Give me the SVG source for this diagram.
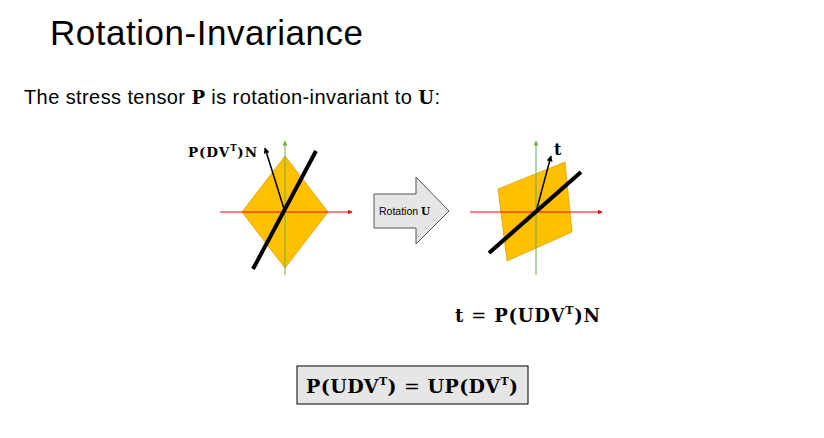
<svg xmlns="http://www.w3.org/2000/svg" width="824" height="438" viewBox="0 0 824 438">
<style>
.m{font-family:"DejaVu Serif","Liberation Serif",serif;font-weight:bold;fill:#000}
.ax{stroke-width:1}
</style>
<defs>
<marker id="ar" viewBox="0 0 10 10" refX="9" refY="5" markerWidth="5" markerHeight="5" orient="auto"><path d="M0,0L10,5L0,10z" fill="#f00"/></marker>
<marker id="ag" viewBox="0 0 10 10" refX="9" refY="5" markerWidth="5" markerHeight="5" orient="auto"><path d="M0,0L10,5L0,10z" fill="#70ad47"/></marker>
<marker id="ak" viewBox="0 0 10 10" refX="9" refY="5" markerWidth="4" markerHeight="4" orient="auto"><path d="M0,0L10,5L0,10z" fill="#000"/></marker>
</defs>
<rect width="824" height="438" fill="#fff"/>
<text x="50" y="45" font-family="Liberation Sans,Arial,sans-serif" font-size="35" textLength="313" fill="#000">Rotation-Invariance</text>
<text x="24" y="104" font-family="Liberation Sans,Arial,sans-serif" font-size="20" textLength="416" fill="#000">The stress tensor <tspan class="m" font-size="18">P</tspan> is rotation-invariant to <tspan class="m" font-size="18">U</tspan>:</text>
<g id="left">
<polygon points="285,156 328,212 285,268 242,212" fill="#ffc000" stroke="#d9a300" stroke-width="0.8"/>
<line x1="220" y1="212" x2="352" y2="212" stroke="#f00" class="ax" marker-end="url(#ar)"/>
<line x1="285" y1="275" x2="285" y2="141" stroke="#70ad47" class="ax" marker-end="url(#ag)"/>
<line x1="316" y1="151" x2="253" y2="269" stroke="#000" stroke-width="4"/>
<line x1="285" y1="212" x2="265" y2="148" stroke="#000" stroke-width="1.5" marker-end="url(#ak)"/>
<text x="188" y="157" class="m" font-size="13.5" textLength="69">P(DV<tspan font-size="8.5" dy="-6">T</tspan><tspan dy="6">)N</tspan></text>
</g>
<g id="rotation">
<polygon points="374,194 416,194 416,177 449,211 416,244 416,228 374,228" fill="#e6e6e6" stroke="#555" stroke-width="1"/>
<text x="379" y="215" font-family="Liberation Sans,Arial,sans-serif" font-size="10.5" fill="#000">Rotation <tspan class="m" font-size="10.5">U</tspan></text>
</g>
<g id="right">
<polygon points="498,189 565,162 572,232 507,261" fill="#ffc000" stroke="#d9a300" stroke-width="0.8"/>
<line x1="470" y1="212" x2="602" y2="212" stroke="#f00" class="ax" marker-end="url(#ar)"/>
<line x1="536" y1="275" x2="536" y2="141" stroke="#70ad47" class="ax" marker-end="url(#ag)"/>
<line x1="581" y1="172" x2="489" y2="253" stroke="#000" stroke-width="4"/>
<line x1="536" y1="212" x2="551" y2="156" stroke="#000" stroke-width="1.5" marker-end="url(#ak)"/>
<text x="554" y="155" class="m" font-size="16">t</text>
</g>
<text x="455" y="322" class="m" font-size="18" textLength="145">t <tspan font-weight="normal">=</tspan> P(UDV<tspan font-size="11" dy="-8">T</tspan><tspan dy="8">)N</tspan></text>
<g id="box">
<rect x="297" y="366" width="231" height="38" fill="#e6e6e6" stroke="#000" stroke-width="1"/>
<text x="306" y="393" class="m" font-size="19" textLength="212">P(UDV<tspan font-size="11" dy="-8">T</tspan><tspan dy="8">) </tspan><tspan font-weight="normal">=</tspan> UP(DV<tspan font-size="11" dy="-8">T</tspan><tspan dy="8">)</tspan></text>
</g>
</svg>
